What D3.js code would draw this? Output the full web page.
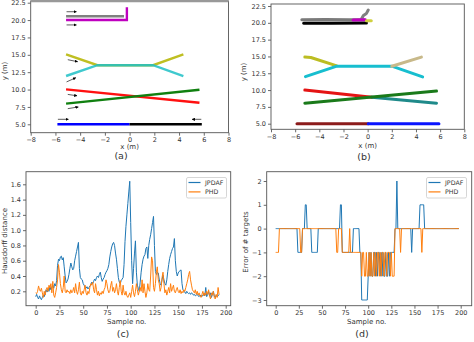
<!DOCTYPE html>
<html>
<head>
<meta charset="utf-8">
<script src="https://d3js.org/d3.v7.min.js"></script>
<style>
  body { margin: 0; background: #fff; }
  svg text { font-family: "DejaVu Sans", sans-serif; fill: #333; }
</style>
<title>Tracking results</title>
</head>
<body>
<script>
// ---- (a) ground truth trajectories, x/y in metres ----
var truthGray    = [[-5.14, 20.55], [-0.45, 20.55]];
var truthMagenta = [[-5.14, 20.0], [-0.22, 20.0], [-0.22, 21.85]];
var truthYellow  = [[-5.14, 15.05], [-2.6, 13.5], [1.9, 13.5], [4.35, 15.05]];
var truthCyan    = [[-5.14, 11.95], [-2.6, 13.5], [1.9, 13.5], [4.35, 11.95]];
var truthRed     = [[-5.14, 10.03], [5.65, 8.1]];
var truthGreen   = [[-5.14, 7.97], [5.65, 9.97]];
var truthBlue    = [[-5.84, 5.0], [0.0, 5.0]];
var truthBlack   = [[0.0, 5.0], [5.84, 5.0]];
// direction arrows: [x0, y0, x1, y1]
var arrows = [
  [-5.1, 21.2, -4.3, 21.2],
  [-5.1, 19.3, -4.3, 19.3],
  [-5.0, 14.3, -4.2, 14.0],
  [-5.1, 11.1, -4.35, 11.7],
  [-5.0, 9.3, -4.25, 9.1],
  [-5.0, 7.25, -4.15, 7.5],
  [-5.8, 5.72, -4.95, 5.72],
  [5.8, 5.72, 5.05, 5.72]
];

// ---- (b) estimated tracks ----
var estGray    = [[-5.45, 20.45], [-3.5, 20.5], [-1.5, 20.45], [-0.3, 20.45]];
var estHook    = [[-0.5, 20.6], [-0.35, 21.1], [-0.1, 21.4], [0.05, 21.9]];
var estBlack   = [[-5.3, 19.93], [-3.0, 19.95], [-0.1, 19.98]];
var estMagenta = [[-1.2, 20.4], [-0.2, 20.45]];
var estYellowBit = [[-0.1, 20.3], [0.3, 20.3]];
var estOlive   = [[-5.2, 14.9], [-4.7, 14.85], [-2.55, 13.6]];
var estCyan    = [[-5.15, 12.0], [-2.55, 13.55], [2.0, 13.55], [4.55, 11.95]];
var estTan     = [[2.0, 13.55], [4.45, 14.9]];
var estRed     = [[-5.2, 10.0], [0.35, 8.92]];
var estTeal    = [[0.35, 8.95], [5.7, 8.05]];
var estGreen   = [[-5.2, 8.05], [5.7, 9.85]];
var estDarkRed = [[-5.85, 5.0], [0.05, 5.0]];
var estBlue    = [[0.05, 5.0], [5.9, 5.0]];

// ---- (c) Hausdorff distance per sample ----
var hdJPDAF = [
  0.13, 0.16, 0.12, 0.10, 0.14, 0.11, 0.09, 0.12, 0.15, 0.13,
  0.18, 0.22, 0.19, 0.23, 0.20, 0.26, 0.22, 0.25, 0.28, 0.24,
  0.30, 0.27, 0.34, 0.54, 0.62, 0.60, 0.65, 0.66, 0.61, 0.64,
  0.52, 0.40, 0.31, 0.33, 0.36, 0.42, 0.50, 0.57, 0.52, 0.48,
  0.50, 0.60, 0.66, 0.72, 0.78, 0.84, 0.50, 0.38, 0.36, 0.35,
  0.30, 0.28, 0.25, 0.24, 0.26, 0.23, 0.25, 0.27, 0.28, 0.32,
  0.30, 0.33, 0.36, 0.34, 0.38, 0.40, 0.38, 0.42, 0.45, 0.38,
  0.33, 0.36, 0.38, 0.42, 0.45, 0.47, 0.50, 0.55, 0.65, 0.72,
  0.78, 0.82, 0.84, 0.80, 0.70, 0.62, 0.50, 0.38, 0.32, 0.30,
  0.34, 0.36, 0.38, 0.55, 0.85, 1.05, 1.20, 1.35, 1.50, 1.64,
  1.10, 0.60, 0.30, 0.50, 0.70, 0.86, 0.45, 0.28, 0.24, 0.20,
  0.32, 0.45, 0.55, 0.62, 0.66, 0.68, 0.76, 0.78, 0.63, 0.80,
  0.88, 0.94, 1.02, 1.10, 1.18, 0.80, 0.46, 0.42, 0.45, 0.44,
  0.36, 0.30, 0.28, 0.35, 0.41, 0.35, 0.30, 0.28, 0.35, 0.46,
  0.55, 0.63, 0.68, 0.72, 0.76, 0.78, 0.89, 0.60, 0.46, 0.40,
  0.44, 0.46, 0.47, 0.48, 0.30, 0.22, 0.20, 0.19, 0.17, 0.20,
  0.18, 0.17, 0.18, 0.16, 0.18, 0.17, 0.15, 0.16, 0.14, 0.15,
  0.16, 0.14, 0.13, 0.15, 0.14, 0.13, 0.15, 0.17, 0.14, 0.25,
  0.13, 0.16, 0.20, 0.14, 0.18, 0.12, 0.16, 0.20, 0.14, 0.12,
  0.15, 0.13, 0.14, 0.16
];
var hdPHD = [
  0.18, 0.17, 0.20, 0.27, 0.22, 0.20, 0.24, 0.18, 0.12, 0.20,
  0.15, 0.22, 0.25, 0.20, 0.28, 0.24, 0.30, 0.18, 0.33, 0.15,
  0.12, 0.18, 0.25, 0.35, 0.55, 0.45, 0.30, 0.22, 0.18, 0.25,
  0.40, 0.20, 0.18, 0.22, 0.19, 0.20, 0.17, 0.22, 0.18, 0.20,
  0.25, 0.18, 0.30, 0.20, 0.16, 0.22, 0.32, 0.18, 0.15, 0.20,
  0.17, 0.22, 0.28, 0.18, 0.15, 0.20, 0.17, 0.25, 0.30, 0.28,
  0.32, 0.22, 0.18, 0.30, 0.22, 0.15, 0.20, 0.14, 0.18, 0.16,
  0.20, 0.17, 0.22, 0.25, 0.35, 0.30, 0.22, 0.18, 0.20, 0.28,
  0.33, 0.20, 0.25, 0.18, 0.22, 0.30, 0.20, 0.15, 0.25, 0.34,
  0.20, 0.15, 0.28, 0.18, 0.15, 0.20, 0.14, 0.12, 0.15, 0.18,
  0.12, 0.20, 0.28, 0.18, 0.13, 0.20, 0.30, 0.22, 0.15, 0.20,
  0.25, 0.20, 0.35, 0.18, 0.30, 0.20, 0.12, 0.18, 0.30, 0.22,
  0.20, 0.40, 0.65, 0.60, 0.25, 0.20, 0.30, 0.45, 0.52, 0.35,
  0.30, 0.20, 0.25, 0.38, 0.45, 0.30, 0.18, 0.22, 0.15, 0.20,
  0.25, 0.18, 0.30, 0.20, 0.24, 0.28, 0.20, 0.18, 0.22, 0.25,
  0.20, 0.18, 0.22, 0.17, 0.20, 0.18, 0.22, 0.20, 0.25, 0.30,
  0.35, 0.42, 0.46, 0.35, 0.28, 0.22, 0.20, 0.18, 0.22, 0.16,
  0.20, 0.15, 0.18, 0.14, 0.12, 0.16, 0.20, 0.14, 0.18, 0.15,
  0.20, 0.16, 0.22, 0.14, 0.10, 0.18, 0.15, 0.20, 0.12, 0.10,
  0.16, 0.12, 0.25, 0.16
];

// ---- (d) error in number of targets per sample ----
var errJPDAF = [
   0, 0, 0, 0, 0, 0, 0, 0, 0, 0,  0, 0, 0, 0, 0, 0, 0, 0, 0, 0,
   0, 0, 0, 0,-1,-1,-1,-1,-1, 0,  0, 0, 1, 1, 0, 0, 0, 0, 0,-1,
  -1,-1,-1,-1,-1,-1, 0, 0, 0, 0,  0, 0, 0, 0, 0, 0, 0, 0, 0, 0,
   0, 0, 0, 0, 0, 0, 0, 0, 0, 0,  1, 1,-1,-1,-1,-1,-1,-1,-1,-1,
  -1,-1,-1,-1, 0, 0, 0, 0, 0, 0,  0,-1,-1,-3,-3,-3,-3,-3,-3,-3,
  -2,-1,-2,-1,-2,-2,-1,-1,-2,-1, -2,-1,-1,-2,-1,-2,-1,-2,-2,-1,
  -2,-2,-1,-2,-1,-1,-1,-1,-1, 0,  0, 2, 0, 0, 0, 0, 0, 0, 0, 0,
   0, 0, 0, 0, 0, 0, 0,-1, 0, 0,  0, 0, 0, 0, 0, 0, 1, 1, 1, 1,
   1, 0, 0, 0, 0, 0, 0, 0, 0, 0,  0, 0, 0, 0, 0, 0, 0, 0, 0, 0,
   0, 0, 0, 0, 0, 0, 0, 0, 0, 0,  0, 0, 0, 0, 0, 0, 0, 0, 0
];
var errPHD = [
  -1,-1,-1,-1, 0, 0, 0, 0, 0, 0,  0, 0, 0, 0, 0, 0, 0, 0, 0, 0,
   0, 0, 0, 0, 0, 0, 0,-1,-1, 0,  0, 0, 0, 0, 0, 0, 0, 0, 0, 0,
   0, 0, 0, 0, 0, 0, 0, 0, 0, 0,  0, 0, 0, 0, 0, 0, 0, 0, 0, 0,
   0, 0, 0, 0, 0, 0,-1,-1, 0, 0,  0, 0,-1,-1,-1,-1,-1,-1,-1,-1,
   0,-1,-1,-1,-1,-1,-1,-1,-1,-1, -1,-1,-1,-2,-1,-1,-2,-2,-1,-2,
  -2,-1,-2,-1,-2,-2,-1,-2,-1,-2, -1,-1,-2,-1,-2,-1,-1,-2,-1,-1,
  -2,-1,-1,-1,-2,-1,-2,-2,-2, 0,  0, 0, 0, 0, 0,-1, 0, 0, 0, 0,
   0, 0, 0, 0, 0, 0, 0, 0, 0, 0,  0, 0, 0, 0, 0, 0, 0, 0,-1, 0,
   0, 0, 0, 0, 0, 0, 0, 0, 0, 0,  0, 0, 0, 0, 0, 0, 0, 0, 0, 0,
   0, 0, 0, 0, 0, 0, 0, 0, 0, 0,  0, 0, 0, 0, 0, 0, 0, 0, 0
];

var mTicksX = [-8, -6, -4, -2, 0, 2, 4, 6, 8];
var mTicksY = [5, 7.5, 10, 12.5, 15, 17.5, 20, 22.5];
var sampleTicks = [0, 25, 50, 75, 100, 125, 150, 175, 200];
var hdTicks = [0.2, 0.4, 0.6, 0.8, 1.0, 1.2, 1.4, 1.6];
var errTicks = [-3, -2, -1, 0, 1, 2];
var seriesNames = ["JPDAF", "PHD"];
var seriesColors = ["#1f77b4", "#ff7f0e"];

var width = 474, height = 342;
var svg = d3.select("body").append("svg")
    .attr("width", width)
    .attr("height", height);

var defs = svg.append("defs");
defs.append("marker")
    .attr("id", "head")
    .attr("viewBox", "0 0 10 10")
    .attr("refX", 9).attr("refY", 5)
    .attr("markerWidth", 4).attr("markerHeight", 4)
    .attr("orient", "auto")
  .append("path")
    .attr("d", "M0,0L10,5L0,10z")
    .attr("fill", "#000");

// builds one axes box: frame, ticks and labels
function panel(box, x, y, opts) {
  var g = svg.append("g");
  defs.append("clipPath").attr("id", opts.id)
    .append("rect")
    .attr("x", box.x0).attr("y", box.y0)
    .attr("width", box.x1 - box.x0).attr("height", box.y1 - box.y0);

  var xAxis = d3.axisBottom(x).tickValues(opts.xTicks).tickSize(3).tickPadding(2)
      .tickFormat(opts.xFormat);
  var yAxis = d3.axisLeft(y).tickValues(opts.yTicks).tickSize(3).tickPadding(2)
      .tickFormat(opts.yFormat);

  g.append("g").attr("transform", "translate(0," + box.y1 + ")").call(xAxis);
  g.append("g").attr("transform", "translate(" + box.x0 + ",0)").call(yAxis);
  g.selectAll(".domain").remove();
  g.selectAll(".tick line").attr("stroke", "#444").attr("stroke-width", 0.8);
  g.selectAll(".tick text").attr("font-size", 6.5).attr("fill", "#333")
      .attr("font-family", "DejaVu Sans, sans-serif");

  g.append("rect")
    .attr("x", box.x0).attr("y", box.y0)
    .attr("width", box.x1 - box.x0).attr("height", box.y1 - box.y0)
    .attr("fill", "none").attr("stroke", "#555").attr("stroke-width", 0.9);

  g.append("text")
    .attr("x", (box.x0 + box.x1) / 2 + (opts.xLabelDx || 0))
    .attr("y", box.y1 + opts.xLabelDy)
    .attr("text-anchor", "middle").attr("font-size", 7)
    .text(opts.xLabel);
  g.append("text")
    .attr("transform", "translate(" + opts.yLabelX + "," + opts.yLabelY + ") rotate(-90)")
    .attr("text-anchor", "middle").attr("font-size", 7)
    .text(opts.yLabel);
  g.append("text")
    .attr("x", opts.capX).attr("y", opts.capY)
    .attr("text-anchor", "middle").attr("font-size", 9.5)
    .attr("fill", "#222")
    .text(opts.caption);
  return svg.append("g").attr("clip-path", "url(#" + opts.id + ")");
}

var line = function (x, y) {
  return d3.line().x(function (d) { return x(d[0]); }).y(function (d) { return y(d[1]); });
};

// ---------- (a) ----------
var xa = d3.scaleLinear().domain([-8, 8]).range([30.7, 228.5]);
var ya = d3.scaleLinear().domain([5, 22.5]).range([124.3, 2.7]);
var ga = panel({ x0: 30.7, x1: 228.5, y0: 1, y1: 132.7 }, xa, ya, {
  id: "clipA", xTicks: mTicksX, yTicks: mTicksY,
  xFormat: d3.format("d"), yFormat: d3.format(".1f"),
  xLabel: "x (m)", xLabelDy: 16.5, yLabel: "y (m)", yLabelX: 7, yLabelY: 71,
  caption: "(a)", capX: 121, capY: 159
});
var la = line(xa, ya);
[
  [truthGray, "#808080"], [truthMagenta, "#bf00bf"],
  [truthYellow, "#bfbf22"], [truthCyan, "#1fbfc6"],
  [truthRed, "#ff1010"], [truthGreen, "#108010"],
  [truthBlue, "#0000ff"], [truthBlack, "#000000"]
].forEach(function (t) {
  ga.append("path").attr("d", la(t[0]))
    .attr("fill", "none").attr("stroke", t[1]).attr("stroke-width", 2.4)
    .attr("stroke-opacity", t[1] === "#1fbfc6" ? 0.85 : 1);
});
ga.selectAll("line.arrow").data(arrows).enter().append("line")
  .attr("class", "arrow")
  .attr("x1", function (d) { return xa(d[0]); })
  .attr("y1", function (d) { return ya(d[1]); })
  .attr("x2", function (d) { return xa(d[2]); })
  .attr("y2", function (d) { return ya(d[3]); })
  .attr("stroke", "#333").attr("stroke-width", 0.8)
  .attr("marker-end", "url(#head)");
// heavy upper border line
svg.append("line").attr("x1", 30.7).attr("x2", 228.5).attr("y1", 1).attr("y2", 1)
  .attr("stroke", "#999").attr("stroke-width", 2.5);

// ---------- (b) ----------
var xb = d3.scaleLinear().domain([-8, 8]).range([271, 464.3]);
var yb = d3.scaleLinear().domain([5, 22.5]).range([123.7, 6]);
var gb = panel({ x0: 271, x1: 464.3, y0: 4, y1: 129.3 }, xb, yb, {
  id: "clipB", xTicks: mTicksX, yTicks: mTicksY,
  xFormat: d3.format("d"), yFormat: d3.format(".1f"),
  xLabel: "x (m)", xLabelDy: 18.5, yLabel: "y (m)", yLabelX: 246, yLabelY: 72,
  caption: "(b)", capX: 364, capY: 160
});
var lb = line(xb, yb);
[
  [estGray, "#7a7a7a"], [estBlack, "#000000"], [estHook, "#808080"],
  [estMagenta, "#c000c0"], [estYellowBit, "#d0d040"],
  [estOlive, "#bcbd22"], [estCyan, "#17becf"], [estTan, "#c8b98a"],
  [estRed, "#e41414"], [estTeal, "#1f8a8a"], [estGreen, "#1a7a1a"],
  [estDarkRed, "#8c1c1c"], [estBlue, "#0a14ff"]
].forEach(function (t) {
  gb.append("path").attr("d", lb(t[0]))
    .attr("fill", "none").attr("stroke", t[1]).attr("stroke-width", 3)
    .attr("stroke-linecap", "round").attr("stroke-linejoin", "round");
});

// ---------- (c) ----------
var xc = d3.scaleLinear().domain([0, 200]).range([35.7, 225.7]);
var yc = d3.scaleLinear().domain([0.2, 1.6]).range([291.3, 184.3]);
var gc = panel({ x0: 26, x1: 230.7, y0: 171.7, y1: 305.7 }, xc, yc, {
  id: "clipC", xTicks: sampleTicks, yTicks: hdTicks,
  xFormat: d3.format("d"), yFormat: d3.format(".1f"),
  xLabel: "Sample no.", xLabelDx: -1.7, xLabelDy: 18.5,
  yLabel: "Hausdorff distance", yLabelX: 7, yLabelY: 241,
  caption: "(c)", capX: 123, capY: 336.5
});
var lc = d3.line().x(function (d, i) { return xc(i); }).y(function (d) { return yc(d); });
[hdJPDAF, hdPHD].forEach(function (s, k) {
  gc.append("path").attr("d", lc(s))
    .attr("fill", "none").attr("stroke", seriesColors[k]).attr("stroke-width", 1);
});

// ---------- (d) ----------
var xd = d3.scaleLinear().domain([0, 200]).range([275.7, 460.7]);
var yd = d3.scaleLinear().domain([-3, 2]).range([300, 181]);
var gd = panel({ x0: 266.7, x1: 471.7, y0: 171.7, y1: 305.7 }, xd, yd, {
  id: "clipD", xTicks: sampleTicks, yTicks: errTicks,
  xFormat: d3.format("d"), yFormat: d3.format("d"),
  xLabel: "Sample no.", xLabelDx: -2.5, xLabelDy: 18.5,
  yLabel: "Error of # targets", yLabelX: 248, yLabelY: 242,
  caption: "(d)", capX: 362, capY: 336.5
});
var ld = d3.line().x(function (d, i) { return xd(i); }).y(function (d) { return yd(d); });
[errJPDAF, errPHD].forEach(function (s, k) {
  gd.append("path").attr("d", ld(s))
    .attr("fill", "none").attr("stroke", seriesColors[k]).attr("stroke-width", 1);
});

// legends
function legend(x0, y0) {
  var lg = svg.append("g").attr("transform", "translate(" + x0 + "," + y0 + ")");
  lg.append("rect").attr("width", 40).attr("height", 20.5).attr("rx", 1.5)
    .attr("fill", "#fff").attr("fill-opacity", 0.8)
    .attr("stroke", "#ccc").attr("stroke-width", 0.8);
  seriesNames.forEach(function (n, k) {
    lg.append("line").attr("x1", 2).attr("x2", 14)
      .attr("y1", 5 + k * 9.4).attr("y2", 5 + k * 9.4)
      .attr("stroke", seriesColors[k]).attr("stroke-width", 1.2);
    lg.append("text").attr("x", 18.5).attr("y", 7.3 + k * 9.4)
      .attr("font-size", 6.3).text(n);
  });
}
legend(186.5, 177.5);
legend(426.5, 177.5);
</script>
</body>
</html>
